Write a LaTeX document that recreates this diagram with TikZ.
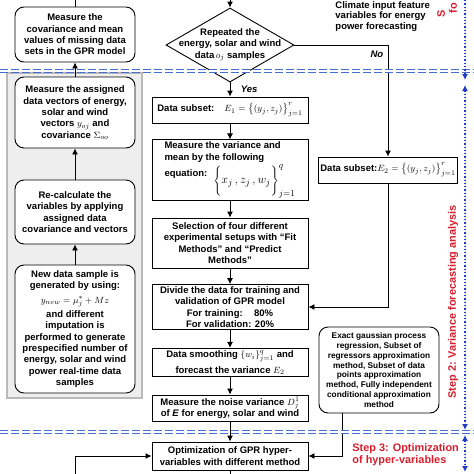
\documentclass[tikz,border=0pt]{standalone}
\usepackage{fontspec}
\setmainfont{Liberation Sans}
\usetikzlibrary{shapes.geometric,arrows.meta}

\definecolor{dashblue}{RGB}{70,110,210}
\definecolor{dotblue}{RGB}{30,60,200}
\definecolor{stepred}{RGB}{215,30,45}

\tikzset{
  box/.style={draw, line width=0.9pt, fill=white, align=center, inner sep=2pt,
    font=\bfseries\fontsize{9.5}{11.3}\selectfont},
  rbox/.style={box, rounded corners=9pt},
  steplabel/.style={text=stepred, font=\bfseries\fontsize{10.9}{12}\selectfont},
  divider/.style={draw=dashblue, line width=1pt, double=white, double distance=1.3pt,
    dash pattern=on 8pt off 3pt},
  dotline/.style={draw=dotblue, fill=dotblue, line width=1.3pt, dotted},
}

\begin{document}
\begin{tikzpicture}[x=1pt, y=1pt, line width=0.9pt, >={Latex[length=6pt,width=6pt]}]

\useasboundingbox (0,0) rectangle (474,-474);

% grey panel on the left
\draw[gray!55, fill=gray!13, line width=1.2pt] (7,-73) rectangle (142,-398);

% left column
\node[rbox, minimum width=120pt, minimum height=55pt] (measurecov) at (75,-34.5)
  {Measure the\\covariance and mean\\values of missing data\\sets in the GPR model};
\node[rbox, minimum width=120pt, minimum height=71pt] (assigned) at (75,-112.5)
  {Measure the assigned\\data vectors of energy,\\solar and wind\\vectors $y_{oj}$ and\\covariance $\Sigma_{oo}$};
\node[rbox, minimum width=120pt, minimum height=64pt] (recalc) at (75,-212)
  {Re-calculate the\\variables by applying\\assigned data\\covariance and vectors};
\node[rbox, minimum width=120pt, minimum height=128pt] (newsample) at (75,-329)
  {New data sample is\\generated by using:\\[3pt]$y_{new}=\mu_j^{*}+Mz$\\[3pt]and different\\imputation is\\performed to generate\\prespecified number of\\energy, solar and wind\\power real-time data\\samples};

% centre column
\node[diamond, draw, fill=white, minimum width=128pt, minimum height=74pt, inner sep=0pt] (repeated) at (230,-45) {};
\node[align=center, font=\bfseries\fontsize{9.5}{11.3}\selectfont] (repeatedtext) at (230,-45)
  {Repeated the\\energy, solar and wind\\data$\,o_j$ samples};

\node[box, minimum width=156pt, minimum height=26pt] (subset1) at (230,-110)
  {Data subset:\hspace{10pt}$E_1=\bigl\{(y_j,z_j)\bigr\}_{j=1}^{r}$};
\node[box, align=left, minimum width=156pt, minimum height=60pt] (variance) at (230,-170)
  {Measure the variance and\\mean by the following\\[2pt]equation:\hspace{6pt}\raisebox{-7pt}{\fontsize{13}{13}\selectfont$\Biggl\{x_j\,,z_j\,,w_j\Biggr\}_{j=1}^{q}$}};
\node[box, minimum width=156pt, minimum height=50pt] (selection) at (230,-243)
  {Selection of four different\\experimental setups with “Fit\\Methods” and “Predict\\Methods”};
\node[box, minimum width=156pt, minimum height=44pt] (divide) at (230,-307)
  {Divide the data for training and\\validation of GPR model\\For training:\hspace{1.2em}80\%\\For validation: 20\%};
\node[box, minimum width=156pt, minimum height=28pt] (smoothing) at (230,-362.5)
  {Data smoothing $\{w_i\}_{j=1}^{q}$ and\\[3pt]forecast the variance $E_2$};
\node[box, minimum width=156pt, minimum height=26pt] (noise) at (230,-408)
  {Measure the noise variance $D_j^1$\\of \textit{E} for energy, solar and wind};
\node[box, minimum width=156pt, minimum height=28pt] (optimize) at (230,-456)
  {Optimization of GPR hyper-\\variables with different method};

% right column
\node[box, minimum width=138pt, minimum height=26pt] (subset2) at (388,-170)
  {Data subset:$E_2=\bigl\{(y_j,z_j)\bigr\}_{j=1}^{r}$};
\node[rbox, font=\bfseries\fontsize{8.3}{9.9}\selectfont, minimum width=120pt, minimum height=86pt] (methods) at (379,-370)
  {Exact gaussian process\\regression, Subset of\\regressors approximation\\method, Subset of data\\points approximation\\method, Fully independent\\conditional approximation\\method};

\node[align=left, anchor=north west, inner sep=0pt, font=\bfseries\fontsize{9.5}{10.5}\selectfont] (climate) at (335,-1)
  {Climate input feature\\variables for energy\\power forecasting};

% connectors
\coordinate (topl) at (75,0);
\coordinate (topc) at (230,0);
\coordinate (bottoml) at (75,-474);
\coordinate (bottomc) at (230,-474);

\draw (measurecov.north) -- (topl);
\draw[->] (assigned.north) -- (measurecov.south);
\draw[->] (recalc.north) -- (assigned.south);
\draw[->] (newsample.north) -- (recalc.south);

\draw[->] (topc) -- (repeated.north);
\draw[->] (repeated.south) -- (subset1.north) node[midway, right, xshift=7pt, font=\bfseries\itshape\fontsize{9.5}{11}\selectfont] {Yes};
\draw[->] (repeated.east) -| (subset2.north) node[pos=0.5, below left, xshift=-1pt, yshift=-2pt, font=\bfseries\itshape\fontsize{9.5}{11}\selectfont] {No};
\draw[->] (subset1.south) -- (variance.north);
\draw[->] (variance.south) -- (selection.north);
\draw[->] (selection.south) -- (divide.north);
\draw[->] (divide.south) -- (smoothing.north);
\draw[->] (smoothing.south) -- (noise.north);
\draw[->] (noise.south) -- (optimize.north);
\draw (optimize.south) -- (bottomc);

\draw[->] (subset2.south) |- (divide.east);
\draw[->] (bottoml) |- (optimize.west);
\draw[->] ([xshift=-37pt]methods.south) |- (optimize.east);

% step dividers
\draw[divider] (0,-71) -- (474,-71);
\draw[divider] (0,-432) -- (474,-432);

\draw[dotline, ->] (465,0) -- (465,-80);
\draw[dotline, <->] (465,-85) -- (465,-430);
\draw[dotline, <->] (465,-435) -- (465,-472);

% step labels
\node[steplabel, rotate=90, anchor=west, inner sep=0pt] (step1a) at (441,-18) {S};
\node[steplabel, rotate=90, anchor=west, inner sep=0pt] (step1b) at (453,-14) {fo};
\node[steplabel, rotate=90] (step2) at (453,-302) {Step 2: Variance forecasting analysis};
\node[steplabel, align=left, anchor=west, inner sep=0pt] (step3) at (352,-455) {Step 3: Optimization\\of hyper-variables};

\end{tikzpicture}
\end{document}
